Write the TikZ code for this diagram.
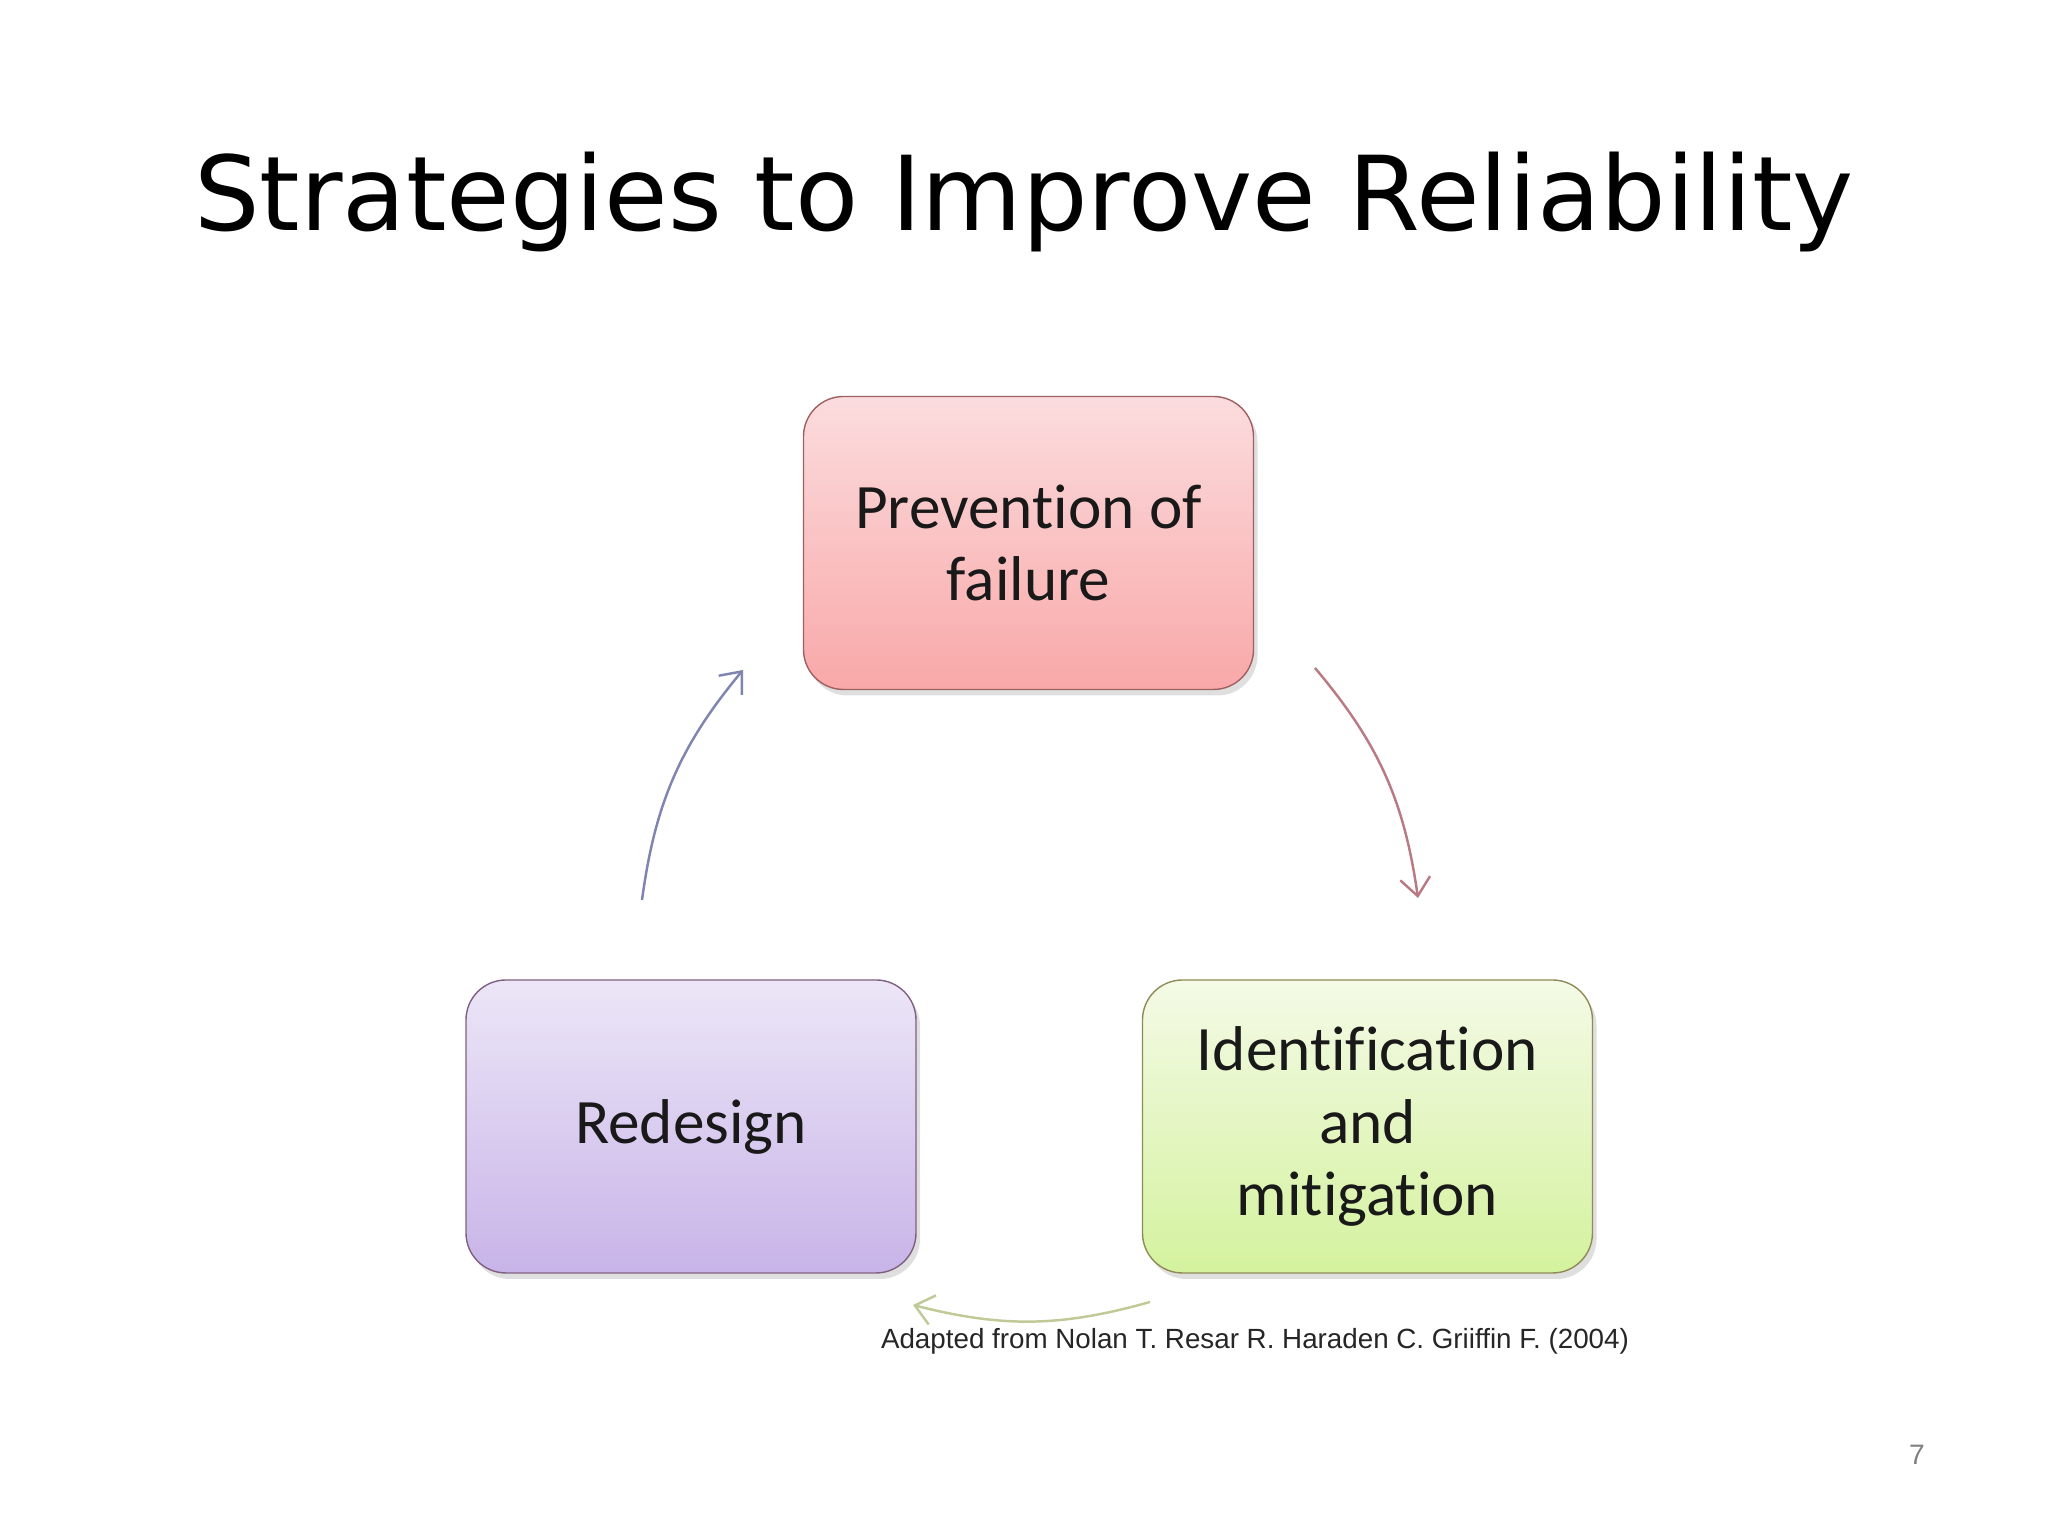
\documentclass[tikz,border=0pt]{standalone}
\usepackage{fontspec}
\setmainfont{Carlito}[Ligatures=CommonOff]
\newfontfamily\titlefont{DejaVu Sans}
\newfontfamily\notefont{Liberation Sans}
\usepackage{tikz}
\usetikzlibrary{shadows,arrows.meta}

\definecolor{pinkTop}{RGB}{251,220,222}
\definecolor{pinkBot}{RGB}{249,168,168}
\definecolor{purpTop}{RGB}{236,230,247}
\definecolor{purpBot}{RGB}{200,180,232}
\definecolor{greenTop}{RGB}{244,250,230}
\definecolor{greenBot}{RGB}{212,242,158}
\definecolor{arrBlue}{RGB}{128,132,176}
\definecolor{arrRed}{RGB}{186,122,132}
\definecolor{arrGreen}{RGB}{192,202,150}

\begin{document}
\begin{tikzpicture}[
  stage/.style={rounded corners=4mm, minimum width=4.5cm, minimum height=2.93cm, align=center,
    font=\fontsize{18}{20.5}\selectfont, text=black!90,
    drop shadow={shadow xshift=0.4mm, shadow yshift=-0.6mm, opacity=0.25}},
  cyc/.style={line width=0.7pt, -{Straight Barb[length=1.8mm,width=3mm]}}]
\useasboundingbox (0,0) rectangle (20.48,15.36);
\node[anchor=base, font=\titlefont\fontsize{29.4}{34}\selectfont] (title) at (10.24,13.05) {Strategies to Improve Reliability};
% the three boxes
\node[stage, draw=red!25!gray, top color=pinkTop, bottom color=pinkBot] (prev) at (10.285,9.93) {Prevention of\\failure};
\node[stage, draw=olive!40!gray, top color=greenTop, bottom color=greenBot] (ident) at (13.675,4.095) {Identification\\and\\mitigation};
\node[stage, draw=violet!25!gray, top color=purpTop, bottom color=purpBot] (redesign) at (6.91,4.095) {Redesign};
% arrow ends
\coordinate (l0) at (6.42,6.36);  \coordinate (l1) at (7.43,8.66);
\coordinate (r0) at (13.15,8.68); \coordinate (r1) at (14.18,6.38);
\coordinate (b0) at (11.50,2.34); \coordinate (b1) at (9.13,2.31);
\draw[cyc, arrBlue] (l0) to[bend left=16] (l1);
\draw[cyc, arrRed] (r0) to[bend left=16] (r1);
\draw[cyc, arrGreen] (b0) to[bend left=15] (b1);
\node[anchor=base, font=\notefont\fontsize{7.9}{9}\selectfont, text=black!85] (src) at (12.55,1.87) {Adapted from Nolan T. Resar R. Haraden C. Griiffin F. (2004)};
\node[anchor=base, font=\notefont\fontsize{8}{9}\selectfont, text=gray] (page) at (19.17,0.71) {7};
\end{tikzpicture}
\end{document}
